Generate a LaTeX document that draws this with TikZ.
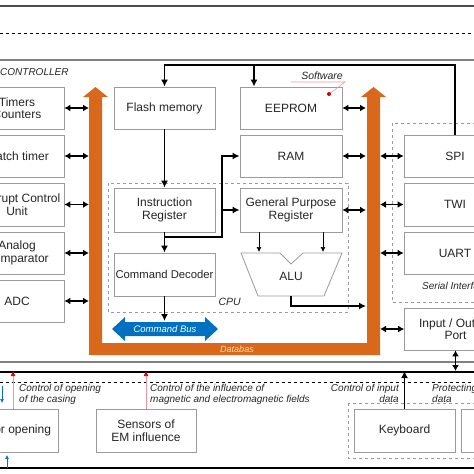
\documentclass[tikz,border=0pt]{standalone}
\usepackage{fontspec}
\setmainfont{Liberation Sans}
\usetikzlibrary{arrows.meta}

\definecolor{busor}{RGB}{217,104,26}
\definecolor{cmdblue}{RGB}{0,112,192}
\definecolor{boxgray}{RGB}{155,155,155}
\definecolor{pinkln}{RGB}{238,150,160}
\definecolor{dbtext}{RGB}{255,222,170}

\begin{document}
\begin{tikzpicture}[x=1pt, y=-1pt,
  blk/.style={draw=boxgray, line width=0.8pt, fill=white, align=center, inner sep=0pt,
    minimum width=101pt, minimum height=42pt, text=black!85, font=\fontsize{12}{12.5}\selectfont},
  lbl/.style={font=\fontsize{10}{11.5}\selectfont\itshape, align=left, inner sep=0pt, text=black!85},
  wire/.style={line width=1.5pt, -{Latex[length=7pt,width=7pt]}},
  both/.style={line width=1.5pt, {Latex[length=6pt,width=7pt]}-{Latex[length=6pt,width=7pt]}},
  tiny/.style={line width=0.7pt, -{Latex[length=5pt,width=5pt]}},
  pk/.style={draw=pinkln, line width=0.7pt, -{Latex[length=5pt,width=5pt,color=red!80!black]}},
  grp/.style={draw=boxgray, dashed, line width=0.8pt}]
  \useasboundingbox (0,0) rectangle (474,474);
  \clip (0,0) rectangle (474,474);

  % frame lines
  \draw[line width=1.2pt, black!70] (0,6) -- (474,6);
  \draw[dashed, line width=0.8pt] (0,33) -- (474,33);
  \draw[line width=1.5pt, gray] (0,60) -- (474,60);
  \draw[line width=1.5pt, gray] (0,362) -- (474,362);
  \draw[line width=1.5pt] (0,372) -- (474,372);
  \draw[line width=1.5pt] (0,468) -- (474,468);
  \draw[dashed, line width=0.8pt] (0,382) -- (474,382);

  % data bus
  \fill[busor] (95.5,87) -- (108,97) -- (102,97) -- (102,343) -- (367,343) -- (367,97)
    -- (361,97) -- (373.5,87) -- (386,97) -- (380,97) -- (380,355) -- (89,355)
    -- (89,97) -- (83,97) -- cycle;
  \node[font=\fontsize{9}{11}\selectfont\itshape, text=dbtext, inner sep=0pt] (dbus) at (237,349) {Databas};
  \coordinate (busL) at (89,0);
  \coordinate (busR) at (366,0);
  \coordinate (busRo) at (380,0);

  \node[lbl, font=\fontsize{10}{12}\selectfont\itshape, anchor=west] (ctrl) at (0,72) {CONTROLLER};

  % groups
  \draw[grp] (108,183) rectangle (348,312);
  \draw[grp] (392,123) rectangle (480,302);
  \draw[grp] (348,403) rectangle (480,458);
  \node[lbl, font=\fontsize{10.5}{12}\selectfont\itshape, anchor=east] (cpu) at (241,302) {CPU};
  \node[lbl, anchor=west] (serial) at (422,286) {Serial Interface};

  % peripherals left
  \node[blk, minimum width=94pt] (timers) at (17,108) {Timers\\Counters};
  \node[blk, minimum width=94pt] (watch) at (17,156) {Watch timer};
  \node[blk, minimum width=94pt, minimum height=43pt] (intr) at (17,204.5) {Interrupt Control\\Unit};
  \node[blk, minimum width=94pt] (analog) at (17,253) {Analog\\Comparator};
  \node[blk, minimum width=94pt] (adc) at (17,301) {ADC};

  % memory and cpu
  \node[blk] (flash) at (164.5,108) {Flash memory};
  \node[blk, minimum width=102pt] (eeprom) at (291,108) {EEPROM};
  \node[blk, minimum width=102pt] (ram) at (291,156) {RAM};
  \node[blk, minimum height=44pt] (ir) at (164.5,210) {Instruction\\Register};
  \node[blk, minimum width=102pt, minimum height=44pt] (gpr) at (291,210) {General Purpose\\Register};
  \node[blk, minimum height=43pt, font=\fontsize{11.3}{12.5}\selectfont] (cd) at (164.5,274.5) {Command Decoder};
  \draw[boxgray, line width=0.8pt, fill=white] (241,253) -- (280,253) -- (291,264) -- (303,253)
    -- (342,253) -- (324,296) -- (258,296) -- cycle;
  \node[font=\fontsize{12}{13}\selectfont, text=black!85] (alu) at (291,276) {ALU};

  % serial and port
  \node[blk, minimum width=102pt] (spi) at (455,156) {SPI};
  \node[blk, minimum width=102pt, minimum height=43pt] (twi) at (455,204.5) {TWI};
  \node[blk, minimum width=102pt] (uart) at (455,253) {UART};
  \node[blk, minimum width=102pt] (io) at (455.5,329) {Input / Output\\Port};

  % command bus
  \fill[cmdblue] (112,329) -- (125,317) -- (125,322) -- (205,322) -- (205,317) -- (218,329)
    -- (205,341) -- (205,336) -- (125,336) -- (125,341) -- cycle;
  \node[font=\fontsize{9.5}{11}\selectfont\itshape, text=white, inner sep=0pt] (cbus) at (165,329) {Command Bus};
  \coordinate (cbtop) at (0,321);

  % connections
  \coordinate (loop) at (0,65);
  \coordinate (ebr) at (254,65);
  \draw[wire] (spi.north) -- (spi.north |- loop) -| (flash.north);
  \draw[wire] (ebr) -- (ebr |- eeprom.north);
  \draw[wire] (flash.south) -- (ir.north);
  \draw[wire] (ir.south) -- (cd.north);
  \coordinate (irj) at (164.5,237);
  \coordinate (split) at (222,0);
  \draw[wire] (irj) -| (split |- ram.west) -- (ram.west);
  \draw[wire] (split |- gpr.west) -- (gpr.west);
  \draw[wire] (cd.south) -- (cd.south |- cbtop);
  \coordinate (alul) at (259,252);
  \coordinate (alur) at (323,252);
  \draw[tiny] (gpr.south -| alul) -- (alul);
  \draw[tiny] (gpr.south -| alur) -- (alur);
  \coordinate (aluo) at (291,296);
  \coordinate (aluy) at (0,306);
  \draw[wire] (aluo) |- (busR |- aluy);

  \foreach \p in {timers, watch, intr, analog, adc}
    \draw[both] (\p.east) -- (\p.east -| busL);
  \foreach \p in {eeprom, ram, gpr}
    \draw[both] (\p.east) -- (\p.east -| busR);
  \foreach \p in {spi, twi, uart, io}
    \draw[both] (busRo |- \p.west) -- (\p.west);

  % software mark
  \node[lbl, font=\fontsize{10.5}{12}\selectfont\itshape] (soft) at (322,76) {Software};
  \coordinate (dot) at (329,94);
  \draw[pinkln, line width=0.6pt] (dot) -- (345,82) -- (291,82);
  \fill[red!85!black] (dot) circle (2);

  % outside
  \coordinate (outl) at (0,371);
  \draw[both] (io.south) -- (io.south |- outl);
  \node[blk, minimum width=86pt, minimum height=43pt] (door) at (15,430.5) {Door opening};
  \node[blk, minimum width=100pt, minimum height=43pt] (em) at (146,430.5) {Sensors of\\EM influence};
  \node[blk, minimum height=43pt] (kbd) at (404.5,430.5) {Keyboard};
  \node[blk, minimum height=43pt] (next) at (511.5,430.5) {};
  \coordinate (dx) at (13,0);
  \draw[pk] (door.north -| dx) -- (dx |- outl);
  \draw[pk] (em.north) -- (em.north |- outl);
  \draw[wire] (kbd.north) -- (kbd.north |- outl);
  \node[lbl, anchor=north west] (lopen) at (19,384) {Control of opening\\of the casing};
  \node[lbl, anchor=north west] (lem) at (150,384) {Control of the influence of\\magnetic and electromagnetic fields};
  \node[lbl, anchor=north east, align=right] (linput) at (399,384) {Control of input\\data};
  \node[lbl, anchor=north west] (lprot) at (432,384) {Protecting\\data};

  % cut-off marks on the left
  \draw[cmdblue, line width=0.7pt, -{Latex[length=4pt,width=4pt]}] (2,386) -- (2,403);
  \draw[cmdblue, line width=0.7pt, -{Latex[length=4pt,width=4pt]}] (7,468) -- (7,455);
\end{tikzpicture}
\end{document}
